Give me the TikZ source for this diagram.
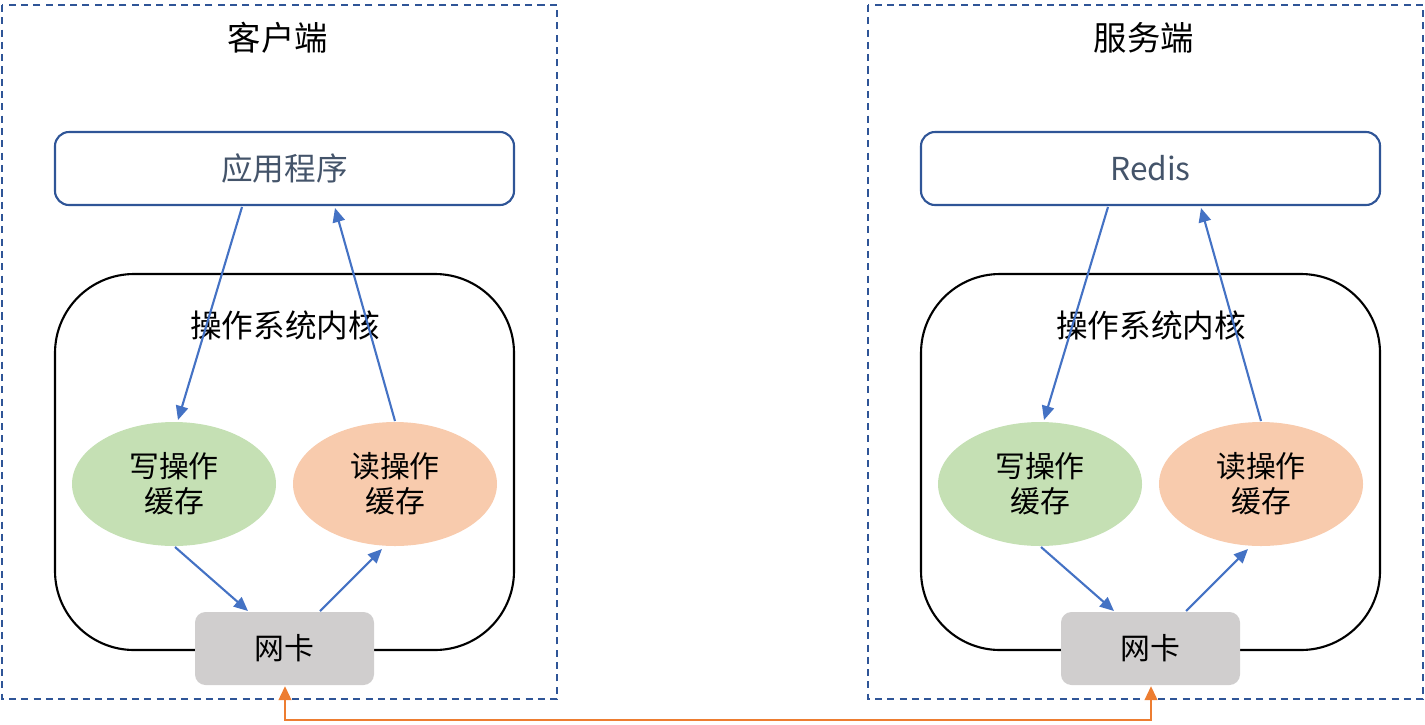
\documentclass[tikz,border=0pt]{standalone}
\usepackage{fontspec}
\newfontfamily\cjk{Noto Sans CJK SC}
\usetikzlibrary{shapes.geometric,arrows.meta}
\definecolor{dblue}{HTML}{2F5597}
\definecolor{lblue}{HTML}{4472C4}
\definecolor{tgray}{HTML}{44546A}
\definecolor{gfill}{HTML}{C5E0B4}
\definecolor{ofill}{HTML}{F8CBAD}
\definecolor{nfill}{HTML}{D0CECE}
\definecolor{orng}{HTML}{ED7D31}
\tikzset{
  frame/.style={draw=dblue,line width=1.3pt,dash pattern=on 4pt off 3pt},
  appbox/.style={draw=dblue,line width=1.2pt,rounded corners=8pt,minimum width=459*0.02cm,minimum height=73*0.02cm,text=tgray,font=\cjk\fontsize{18}{20}\selectfont},
  kern/.style={draw=black,line width=1.2pt,rounded corners=45pt},
  ell/.style={ellipse,minimum width=204*0.02cm,minimum height=124*0.02cm,align=center,font=\cjk\fontsize{17}{20}\selectfont},
  nic/.style={fill=nfill,rounded corners=6pt,minimum width=179*0.02cm,minimum height=73*0.02cm,font=\cjk\fontsize{17}{20}\selectfont},
  arr/.style={draw=lblue,line width=1.2pt,-{Triangle[length=8pt,width=7pt]}},
  lbl/.style={font=\cjk\fontsize{18}{20}\selectfont}
}
\begin{document}
\begin{tikzpicture}[x=0.02cm,y=-0.02cm]
\useasboundingbox (0,0) rectangle (1425,724);
\foreach \o/\t/\a/\s in {0/客户端/应用程序/c,866/服务端/Redis/s}{
  \begin{scope}[xshift=\o*0.02cm]
  \draw[frame] (2,5) rectangle (557,699);
  \node[lbl,font=\cjk\fontsize{19}{20}\selectfont] (title\s) at (278,38) {\t};
  \draw[kern] (55,274) rectangle (514,650);
  \node[lbl] (kt\s) at (285,325) {操作系统内核};
  \node[appbox] (app\s) at (284.5,168.5) {\a};
  \node[ell,fill=gfill] (w\s) at (174,484) {写操作\\缓存};
  \node[ell,fill=ofill] (r\s) at (395,484) {读操作\\缓存};
  \node[nic] (nic\s) at (284.5,648.5) {网卡};
  \coordinate (a1\s) at (242,207); \coordinate (w1\s) at (178,420);
  \coordinate (r1\s) at (395,421); \coordinate (a2\s) at (335,208);
  \coordinate (w2\s) at (175,547); \coordinate (n1\s) at (248,611);
  \coordinate (n2\s) at (320,611); \coordinate (r2\s) at (382,549);
  \draw[arr] (a1\s) -- (w1\s);
  \draw[arr] (r1\s) -- (a2\s);
  \draw[arr] (w2\s) -- (n1\s);
  \draw[arr] (n2\s) -- (r2\s);
  \coordinate (nb\s) at (285,686);
  \end{scope}
}
\draw[draw=orng,line width=1.6pt,{Triangle[length=8pt,width=7pt]}-{Triangle[length=8pt,width=7pt]}] (nbc) -- ++(0,34) -| (nbs);
\end{tikzpicture}
\end{document}
